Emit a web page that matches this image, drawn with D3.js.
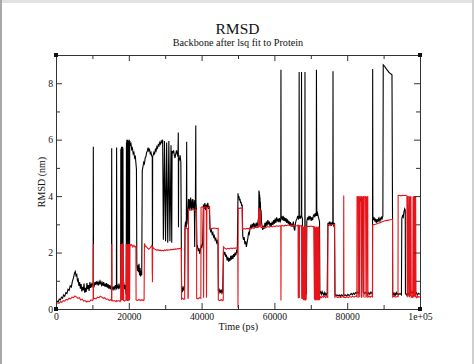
<!DOCTYPE html>
<html><head><meta charset="utf-8">
<script src="https://cdn.jsdelivr.net/npm/d3@7"></script>
<style>
html,body{margin:0;padding:0;background:#fff;}
svg{display:block;}
text{font-family:"Liberation Serif","Times New Roman",serif;fill:#111;}
</style></head>
<body>
<svg id="chart" width="474" height="364"></svg>
<script>
const titleText = "RMSD";
const subtitleText = "Backbone after lsq fit to Protein";
const xLabel = "Time (ps)";
const yLabel = "RMSD (nm)";
const xMajorTicks = [0, 20000, 40000, 60000, 80000, 100000];
const xTickLabels = ["0", "20000", "40000", "60000", "80000", "1e+05"];
const xMinorTicks = [10000, 30000, 50000, 70000, 90000];
const yMajorTicks = [0, 2, 4, 6, 8];
const yMinorTicks = [1, 3, 5, 7, 9];

// black set: backbone RMSD [time (ps), rmsd (nm)]
const blackData = [
[0,0.22],[300,0.28],[600,0.25],[900,0.35],[1200,0.32],[1500,0.42],[1800,0.38],[2100,0.5],[2400,0.45],[2700,0.58],[3000,0.55],[3300,0.7],[3600,0.66],[3900,0.82],[4200,0.78],[4500,0.98],[4800,1.1],[5100,1.28],[5300,1.33],[5500,1.18],[5700,1.22],[5900,1.0],[6100,1.05],[6300,0.82],[6500,0.95],[6700,0.72],[6900,0.88],[7100,0.62],[7300,0.78],[7500,0.66],[7700,0.9],[7900,0.58],[8100,0.75],[8300,0.6],[8500,0.92],[8700,0.7],[8900,0.85],[9100,0.64],[9300,0.95],[9500,0.75],[9700,0.88],[9900,0.8],[10100,0.92],
[10200,0.85],[10250,5.75],[10300,0.9],
[10500,0.82],[10700,0.95],[10900,0.86],[11100,0.98],[11300,0.88],[11500,0.95],[11700,0.84],[11900,0.97],[12100,0.9],[12300,0.98],[12500,0.85],[12700,0.93],[12900,0.82],[13100,0.95],[13300,0.8],[13500,0.9],[13700,0.78],[13900,0.92],[14100,0.76],[14300,0.88],[14500,0.72],[14700,0.85],[14900,0.7],[15100,0.8],
[15250,0.74],[15300,5.7],[15350,0.7],
[15500,0.78],[15700,0.66],[15900,0.8],[16100,0.72],[16300,0.85],[16500,0.7],
[16600,0.72],[16650,5.72],[16700,0.75],
[16900,0.82],[17100,0.7],[17300,0.9],[17500,0.75],
[17750,0.8],[17800,5.65],[17850,2.4],[17900,5.7],[17950,0.9],[18000,5.75],[18050,2.3],[18100,5.6],[18150,0.85],[18200,5.7],[18250,2.5],[18300,5.75],[18350,0.9],[18400,5.7],[18450,0.8],
[18600,0.95],[18800,0.7],[19000,0.85],[19200,0.6],
[19300,0.5],[19350,5.9],[19400,0.4],[19450,6.0],[19500,0.35],[19550,5.95],[19600,0.3],[19650,5.9],[19700,0.4],[19750,6.0],[19800,0.3],[19850,5.95],[19900,0.35],[19950,5.85],[20000,0.3],[20050,5.9],[20100,0.4],[20150,6.0],[20200,0.35],[20250,5.9],[20300,5.95],
[20400,5.8],[20600,5.85],[20800,5.65],[21000,5.7],[21200,5.5],[21400,5.55],[21600,5.35],[21800,5.4],[22000,5.1],[22100,4.95],
[22200,1.6],[22350,1.35],[22500,1.55],[22650,1.3],[22800,1.6],[22950,1.2],[23100,1.45],[23250,1.15],[23400,1.35],[23550,1.2],
[23700,4.9],[23900,5.05],[24100,5.2],[24300,5.15],[24500,5.35],[24700,5.4],[24900,5.55],[25100,5.6],[25300,5.72],[25500,5.6],[25700,5.65],[25900,5.5],[26100,5.55],[26300,5.42],
[26450,5.4],[26500,1.2],[26550,5.4],
[26700,5.45],[26900,5.55],[27100,5.5],[27300,5.65],[27500,5.6],[27700,5.75],[27900,5.7],[28100,5.82],[28300,5.78],[28500,5.9],[28700,5.85],[28900,5.95],[29100,5.9],
[29300,6.0],[29500,2.45],[29800,5.95],[30100,2.4],[30400,5.9],[30700,2.35],[31000,5.95],[31300,2.4],[31600,5.8],[31800,2.35],
[31900,5.6],[32100,5.55],[32300,5.62],[32500,5.45],[32700,5.35],[32900,5.5],[33100,5.62],[33300,5.5],
[33500,5.4],[33600,6.25],[33650,2.9],[33700,5.35],
[33900,5.3],[34100,5.45],[34300,5.2],
[34500,0.75],[34700,0.6],[34900,0.8],[35100,0.65],[35300,0.75],
[35450,2.95],[35600,3.1],[35800,2.9],[35900,5.93],[35950,3.0],[36100,3.2],[36300,3.6],
[36400,3.9],[36500,3.55],[36600,3.85],[36700,3.5],[36800,3.9],[36900,3.6],[37000,3.95],[37100,3.55],[37200,3.8],[37300,3.5],[37400,3.88],[37500,3.6],[37600,3.9],[37700,3.55],[37800,3.75],[37900,3.6],[38000,3.85],[38100,2.2],[38200,3.7],[38300,3.9],
[38400,6.5],[38450,3.8],[38550,3.6],
[38700,2.3],[38900,2.2],[39100,2.05],[39300,2.15],[39500,1.95],[39700,2.1],[39900,2.25],[40100,2.2],[40300,2.35],
[40500,3.7],[40700,3.55],[40900,3.75],[41100,3.5],[41300,3.7],[41500,3.58],[41700,3.76],[41900,3.55],[42100,3.65],
[42300,2.85],[42500,2.75],[42700,2.8],[42900,2.65],[43100,2.7],[43300,2.55],[43500,2.6],[43700,2.45],[43900,2.5],[44100,2.35],[44300,2.42],[44500,2.3],
[44600,0.65],[44800,0.58],[45000,0.68],[45200,0.6],[45400,0.66],[45600,0.56],[45800,0.62],
[46000,2.05],[46200,1.95],[46400,2.02],[46600,1.85],[46800,1.92],[47000,1.72],[47200,1.85],[47400,1.68],[47600,1.8],[47800,1.7],[48000,1.88],[48200,1.75],[48400,1.9],[48600,1.78],[48800,1.95],[49000,1.85],[49200,2.0],[49400,1.9],[49600,2.05],[49800,1.98],
[50000,4.1],[50100,3.95],[50250,4.0],[50400,3.85],[50550,3.9],[50700,3.75],[50850,3.8],[51000,3.65],[51150,3.7],
[51300,2.6],[51500,2.45],[51700,2.55],[51900,2.3],[52100,2.4],[52300,2.2],[52500,2.35],[52700,2.5],[52900,2.7],[53100,2.65],[53300,2.85],
[53500,2.95],[53700,2.88],[53900,3.02],[54100,2.9],[54300,3.05],[54500,2.92],[54700,3.0],[54900,2.88],[55100,3.02],[55300,2.95],[55500,3.1],
[55700,3.3],[55750,4.2],[55800,3.1],[55850,4.15],[55900,3.2],[55950,4.05],[56000,3.15],[56050,3.95],[56100,3.2],[56150,3.8],[56250,3.3],[56350,3.5],[56450,3.1],
[56600,2.95],[56800,2.8],[57000,2.95],[57200,2.85],[57400,3.05],[57600,2.9],[57800,3.1],[58000,2.95],[58200,3.15],[58400,3.0],[58600,3.1],[58800,2.92],[59000,3.05],[59200,2.95],[59400,3.1],[59600,2.98],[59800,3.15],[60000,3.02],[60200,3.2],[60400,3.05],[60600,3.25],[60800,3.1],[61000,3.2],[61200,3.08],[61400,3.22],[61600,3.1],
[61750,3.15],[61800,8.48],[61850,3.2],
[62000,3.28],[62200,3.15],[62400,3.3],[62600,3.12],[62800,3.25],[63000,3.1],[63200,3.22],[63400,3.05],[63600,3.18],[63800,3.02],[64000,3.12],[64200,2.98],[64400,3.08],[64600,2.92],
[64800,3.0],[65000,2.95],[65200,3.1],[65400,2.85],[65600,2.78],[65800,3.05],[66000,3.15],[66200,3.2],[66400,3.3],[66600,3.2],
[66750,3.25],[66800,8.4],[66850,3.2],[67000,3.3],[67200,3.2],[67400,3.35],[67450,8.4],[67500,3.3],
[67700,3.2],[67800,0.55],[68000,0.48],[68200,0.55],[68350,0.5],[68400,8.4],[68450,0.6],[68600,0.5],[68800,0.55],[68900,3.1],
[69100,3.25],[69300,3.15],[69500,3.3],[69700,3.2],[69900,3.28],[70100,3.12],[70300,3.25],[70500,3.15],[70700,3.3],[70900,3.35],
[71100,3.25],[71300,3.4],[71500,3.3],[71550,8.48],[71650,3.3],[71800,3.45],[72000,3.3],[72200,3.2],[72400,3.1],
[72500,0.55],[72700,0.6],[72900,0.52],[73100,0.62],[73300,0.55],[73500,0.5],[73700,0.58],[73900,0.48],[74100,0.55],[74300,0.5],[74500,0.56],
[74700,3.05],[74900,2.95],[75100,3.1],[75300,2.98],[75500,3.05],[75700,2.95],[75900,3.08],[76050,3.0],[76100,8.42],[76150,3.0],[76300,2.95],[76500,3.05],
[76650,0.52],[76900,0.48],[77200,0.5],[77500,0.46],[77800,0.5],[78100,0.45],[78400,0.5],[78700,0.47],[79000,0.52],[79300,0.48],[79600,0.5],[79900,0.46],[80200,0.52],[80500,0.48],[80800,0.5],[81100,0.55],[81400,0.5],[81700,0.56],[82000,0.52],[82300,0.58],[82600,0.55],
[82800,0.6],[83300,0.55],[83400,3.9],[83600,3.85],[83800,3.95],[84000,3.8],[84200,3.9],[84300,2.2],[84400,0.6],[84800,0.55],[85200,0.6],[85600,0.5],
[85900,0.58],[86200,0.52],[86500,0.6],[86800,0.55],
[86950,0.5],[87000,8.5],[87050,3.3],
[87200,3.15],[87400,3.25],[87600,3.1],[87800,3.2],[88000,3.05],[88200,3.18],[88400,3.08],[88600,3.2],[88800,3.12],[89000,3.22],[89200,3.15],[89400,3.25],[89600,3.2],[89800,3.3],
[89900,8.65],[90100,8.62],[90300,8.6],[90500,8.55],[90700,8.52],[90900,8.48],[91100,8.45],[91300,8.42],[91500,8.38],[91700,8.36],[91900,8.34],[92100,8.32],[92300,8.3],
[92450,3.4],[92500,0.5],
[92700,0.55],[92900,0.48],[93100,0.56],[93300,0.5],[93500,0.58],[93700,0.52],[93900,0.55],
[94100,0.5],[94500,0.55],[94900,0.5],[95000,3.2],[95200,3.3],[95400,3.25],[95600,3.45],[95800,3.55],[95950,3.5],[96000,0.55],
[96300,0.5],[96600,0.58],[96900,0.52],[97200,0.6],[97500,0.55],[97800,0.62],[98100,0.56],[98400,0.6],[98700,0.52],[99000,0.58],[99300,0.5],[99600,0.56],[100000,0.52]
];

// red set [time (ps), rmsd (nm)]
const redData = [
[0,0.18],[400,0.22],[800,0.2],[1200,0.26],[1600,0.24],[2000,0.3],[2400,0.28],[2800,0.34],[3200,0.32],[3600,0.38],[4000,0.36],[4400,0.42],[4800,0.4],[5200,0.46],[5600,0.43],[6000,0.38],[6400,0.4],[6800,0.32],[7200,0.35],[7600,0.28],[8000,0.3],[8400,0.25],[8800,0.28],[9200,0.26],[9600,0.32],[10000,0.3],[10200,0.34],[10250,2.3],[10300,0.35],[10600,0.38],[11000,0.36],[11400,0.42],[11800,0.4],[12200,0.45],[12600,0.42],[13000,0.38],[13400,0.4],[13800,0.34],[14200,0.36],[14600,0.3],[15000,0.33],[15250,0.3],[15300,2.3],[15350,0.32],[15700,0.28],[16100,0.3],[16500,0.26],[16650,0.3],[16900,0.28],[17300,0.3],[17600,0.26],
[17750,0.3],[17800,2.3],[17900,0.3],[18000,2.3],[18100,0.32],[18200,2.28],[18300,2.3],[18400,0.3],[18500,2.3],[18600,0.3],
[18800,0.28],[19000,0.3],[19200,0.32],
[19300,2.3],[19400,0.3],[19500,2.3],[19600,0.28],[19700,2.28],[19800,0.3],[19900,2.3],[20000,0.3],[20100,2.3],[20200,0.32],[20300,2.3],
[20500,2.25],[20800,2.28],[21100,2.2],[21400,2.25],[21700,2.2],[21950,2.22],
[22000,0.32],[22400,0.3],[22800,0.34],[23200,0.3],[23600,0.33],[24000,0.3],[24200,0.32],
[24300,2.32],[24600,2.22],[24900,2.2],[25200,2.15],[25500,2.12],[25800,2.16],[26100,2.2],[26300,2.25],[26450,2.22],[26500,0.95],[26550,2.2],[26800,2.16],[27100,2.12],[27400,2.1],[27700,2.08],[28000,2.1],[28300,2.07],[28600,2.09],[28900,2.06],[29200,2.08],[29500,2.06],[29800,2.09],[30100,2.07],[30400,2.1],[30700,2.08],[31000,2.1],[31300,2.09],[31600,2.11],[31900,2.1],[32200,2.12],[32500,2.11],[32800,2.13],[33100,2.12],[33400,2.14],[33700,2.13],[34000,2.15],[34300,2.14],
[34450,2.15],[34500,0.35],[34800,0.38],[35100,0.34],[35350,0.36],
[35400,2.86],[35700,2.88],[36000,2.84],[36200,2.86],
[36250,0.38],[36350,0.38],
[36400,3.5],[36800,3.52],[37200,3.5],[37600,3.53],[38000,3.5],[38400,3.52],[38600,3.5],
[38650,0.38],[39000,0.36],[39400,0.4],[39800,0.38],
[39850,3.6],[40200,3.62],[40500,3.6],[40550,0.4],[40650,3.6],[41000,3.62],[41300,3.6],[41350,0.4],[41450,3.58],[41800,3.6],[42200,3.62],
[42300,2.86],[42800,2.85],[43300,2.87],[43800,2.86],[44300,2.85],[44550,2.86],
[44600,0.32],[45000,0.3],[45400,0.33],[45800,0.3],[45950,0.32],
[46000,2.2],[46400,2.15],[46800,2.12],[47200,2.15],[47600,2.13],[48000,2.16],[48400,2.14],[48800,2.16],[49200,2.15],[49600,2.17],[49950,2.16],
[50000,0.05],[50050,3.58],[50400,3.56],[50800,3.58],[51150,3.56],
[51200,2.82],[51600,2.85],[52000,2.83],[52400,2.86],[52800,2.84],[53200,2.87],[53600,2.85],[54000,2.88],[54400,2.86],[54800,2.9],[55200,2.88],[55600,2.9],
[55750,3.6],[55850,2.9],[55950,3.55],[56050,2.95],[56150,3.5],[56250,2.9],
[56600,2.88],[57000,2.9],[57400,2.87],[57800,2.9],[58200,2.92],[58600,2.9],[59000,2.93],[59400,2.91],[59800,2.94],[60200,2.92],[60600,2.95],[61000,2.93],[61400,2.95],[61750,2.94],[61800,0.3],[61850,2.95],
[62200,2.96],[62600,2.94],[63000,2.97],[63400,2.95],[63800,2.98],[64200,2.96],[64600,2.97],[65000,2.95],[65400,2.98],[65800,2.96],[66200,2.95],[66500,2.97],[66550,0.38],[66600,2.96],
[66800,2.95],[66850,0.39],[66900,2.95],[67300,2.94],[67450,2.95],[67500,0.36],[67550,2.94],
[67700,2.93],[67750,0.35],[67850,2.9],[67950,0.32],[68050,2.92],[68150,0.3],[68250,2.9],[68350,0.32],[68450,2.92],[68550,0.3],[68650,2.9],[68750,0.33],[68850,2.92],
[69200,2.93],[69600,2.92],[70000,2.94],[70400,2.92],[70800,2.93],
[71000,0.34],[71100,2.92],[71200,0.3],[71350,2.9],[71450,0.32],[71600,2.92],[71700,0.3],[71850,2.9],[71950,0.33],[72100,2.92],[72200,0.3],[72300,2.9],[72400,0.32],
[72600,0.44],[72900,0.4],[73200,0.45],[73500,0.42],[73800,0.46],[74100,0.4],[74400,0.44],[74650,0.42],
[74700,2.98],[75100,3.0],[75500,2.97],[75900,3.0],[76300,2.98],[76550,3.0],
[76600,0.42],[77000,0.44],[77400,0.4],[77800,0.43],[78200,0.4],[78600,0.44],[79000,0.42],[79050,4.02],[79100,0.42],[79500,0.4],[79900,0.43],[80300,0.4],[80700,0.44],[81100,0.42],[81500,0.45],[81900,0.42],[82300,0.46],[82650,0.44],
[82700,3.98],[83000,3.97],[83050,0.4],[83150,3.98],[83400,3.96],[83450,0.42],[83550,3.98],[83900,3.97],[83950,0.4],[84050,3.98],[84350,3.96],[84400,0.42],[84500,3.98],[84850,3.97],[84900,0.4],[85000,3.98],[85300,3.96],[85350,0.42],[85450,3.97],[85650,3.98],
[85700,0.42],[86000,0.45],[86300,0.42],[86600,0.46],[86950,0.43],
[87000,2.98],[87400,2.99],[87800,3.0],[88200,3.02],[88600,3.04],[89000,3.06],[89400,3.08],[89800,3.1],[90200,3.12],[90600,3.13],[91000,3.14],[91400,3.15],[91800,3.16],[92200,3.17],[92450,3.18],
[92500,0.42],[92900,0.45],[93300,0.42],[93700,0.44],[93950,0.43],
[94000,4.02],[94400,4.03],[94800,4.01],[95200,4.03],[95600,4.02],[96000,4.03],[96400,4.01],
[96500,0.42],[96650,4.0],[96750,0.44],[97000,4.0],[97100,0.42],[97250,3.98],[97350,0.45],[97500,4.0],[97600,0.42],[97800,0.45],[98000,0.4],[98100,3.98],[98200,0.42],[98300,4.0],[98400,0.44],[98550,3.98],[98650,0.42],[98800,4.0],[98900,0.43],[99100,0.4],[99300,0.45],[99500,0.42],[99700,0.44],[100000,0.42]
];

const svg = d3.select("#chart");
const W = 474, H = 364;
const plot = {left: 56, right: 420, top: 55, bottom: 309};

// window border
svg.append("rect").attr("x",0).attr("y",0).attr("width",W).attr("height",H).attr("fill","#fff");
svg.append("rect").attr("x",0).attr("y",0).attr("width",W).attr("height",3).attr("fill","#e2e2e2");
svg.append("rect").attr("x",0).attr("y",0).attr("width",2).attr("height",H).attr("fill","#a8a8a8");
svg.append("rect").attr("x",472).attr("y",0).attr("width",2).attr("height",H).attr("fill","#cfcfcf");

const x = d3.scaleLinear().domain([0, 100000]).range([plot.left, plot.right]);
const y = d3.scaleLinear().domain([0, 9]).range([plot.bottom, plot.top]);

const g = svg.append("g");

svg.append("clipPath").attr("id","clip").append("rect")
  .attr("x",plot.left).attr("y",plot.top).attr("width",plot.right-plot.left).attr("height",plot.bottom-plot.top);

const line = d3.line().x(d => x(d[0])).y(d => y(d[1]));
const lines = g.append("g").attr("clip-path","url(#clip)");
lines.append("path").datum(blackData).attr("d", line)
  .attr("fill","none").attr("stroke","#000").attr("stroke-width",1.1).attr("stroke-linejoin","miter");
lines.append("path").datum(redData).attr("d", line)
  .attr("fill","none").attr("stroke","#e8141b").attr("stroke-width",1.1).attr("stroke-linejoin","miter");

const axisColor = "#333";
const fmtX = d => xTickLabels[xMajorTicks.indexOf(d)];

function styleAxis(sel){
  sel.selectAll("path.domain").attr("stroke", axisColor).attr("stroke-width",1);
  sel.selectAll(".tick line").attr("stroke", axisColor).attr("stroke-width",1);
  sel.selectAll("text").attr("fill","#111").style("font-family","Liberation Serif, Times New Roman, serif");
}

const bottom = g.append("g").attr("transform",`translate(0,${plot.bottom})`)
  .call(d3.axisBottom(x).tickValues(xMajorTicks).tickFormat(fmtX).tickSizeInner(-6).tickSizeOuter(0).tickPadding(4));
bottom.selectAll("text").style("font-size","9.7px");
styleAxis(bottom);
g.append("g").attr("transform",`translate(0,${plot.bottom})`)
  .call(d3.axisBottom(x).tickValues(xMinorTicks).tickFormat("").tickSizeInner(-4).tickSizeOuter(0)).call(styleAxis);
g.append("g").attr("transform",`translate(0,${plot.top})`)
  .call(d3.axisTop(x).tickValues(xMajorTicks).tickFormat("").tickSizeInner(-6).tickSizeOuter(0)).call(styleAxis);
g.append("g").attr("transform",`translate(0,${plot.top})`)
  .call(d3.axisTop(x).tickValues(xMinorTicks).tickFormat("").tickSizeInner(-4).tickSizeOuter(0)).call(styleAxis);
const left = g.append("g").attr("transform",`translate(${plot.left},0)`)
  .call(d3.axisLeft(y).tickValues(yMajorTicks).tickFormat(d3.format("d")).tickSizeInner(-6).tickSizeOuter(0).tickPadding(3));
left.selectAll("text").style("font-size","9.7px");
styleAxis(left);
g.append("g").attr("transform",`translate(${plot.left},0)`)
  .call(d3.axisLeft(y).tickValues(yMinorTicks).tickFormat("").tickSizeInner(-4).tickSizeOuter(0)).call(styleAxis);
g.append("g").attr("transform",`translate(${plot.right},0)`)
  .call(d3.axisRight(y).tickValues(yMajorTicks).tickFormat("").tickSizeInner(-6).tickSizeOuter(0)).call(styleAxis);
g.append("g").attr("transform",`translate(${plot.right},0)`)
  .call(d3.axisRight(y).tickValues(yMinorTicks).tickFormat("").tickSizeInner(-4).tickSizeOuter(0)).call(styleAxis);

[[plot.left,plot.top],[plot.right,plot.top],[plot.left,plot.bottom],[plot.right,plot.bottom]].forEach(([cx,cy])=>{
  g.append("rect").attr("x",cx-2).attr("y",cy-2).attr("width",4).attr("height",4).attr("fill","#111");
});

svg.append("text").attr("x",237.5).attr("y",34).attr("text-anchor","middle")
  .style("font-size","15.5px").text(titleText);
svg.append("text").attr("x",238).attr("y",45.8).attr("text-anchor","middle")
  .style("font-size","10.2px").text(subtitleText);
svg.append("text").attr("x",238.3).attr("y",329.5).attr("text-anchor","middle")
  .style("font-size","10.2px").text(xLabel);
svg.append("text").attr("transform","translate(45,182) rotate(-90)").attr("text-anchor","middle")
  .style("font-size","10px").text(yLabel);
</script>
</body></html>
